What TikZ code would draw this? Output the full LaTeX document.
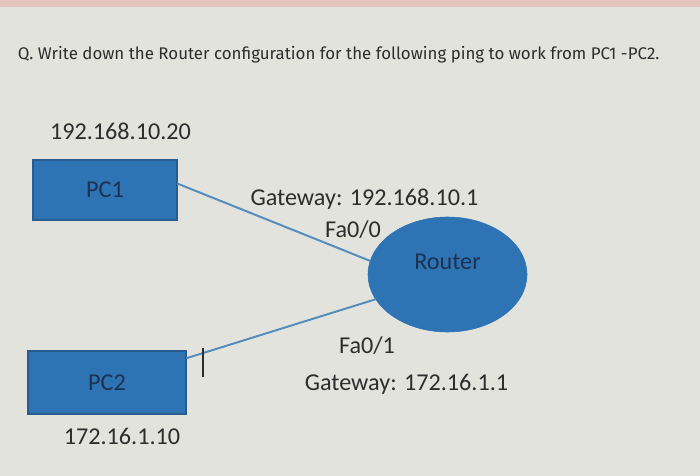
\documentclass[tikz,border=0pt]{standalone}
\usepackage{fontspec}
\setmainfont{Carlito}
\newfontfamily\titulofont{Fira Sans}
\usepackage{xcolor}
\usetikzlibrary{shapes.geometric}
\definecolor{Fondo}{RGB}{227, 227, 222}
\definecolor{Rosa}{RGB}{230, 196, 190}
\definecolor{Azul}{RGB}{46, 116, 181}
\definecolor{AzulBorde}{RGB}{42, 93, 143}
\definecolor{AzulLinea}{RGB}{84, 140, 190}
\definecolor{AzulTexto}{RGB}{28, 50, 80}
\definecolor{Gris}{RGB}{45, 45, 45}
\tikzset{
  equipo/.style={draw=AzulBorde, fill=Azul, rectangle, line width=0.8pt, text=AzulTexto, font=\fontsize{17.2}{19}\selectfont},
  enrutador/.style={draw=Azul, fill=Azul, ellipse, inner sep=0pt, text=AzulTexto, font=\fontsize{17.2}{19}\selectfont},
  etiqueta/.style={text=Gris, font=\fontsize{17.2}{19}\selectfont, inner sep=1pt},
  enlace/.style={draw=AzulLinea, line width=1.4pt}
}

\begin{document}
\begin{tikzpicture}[x=0.25cm, y=-0.25cm]
            %Fondo
            \fill[Fondo] (0,0) rectangle (70,47.6);
            \fill[Rosa] (0,0) rectangle (70,0.7);
            \useasboundingbox (0,0) rectangle (70,47.6);
            \node[anchor=west, text=Gris, font=\titulofont\fontsize{12}{14}\selectfont] (titulo) at (1.3,5.5) {Q. Write down the Router configuration for the following ping to work from PC1 -PC2.};
            %Equipos
            \node[equipo, minimum width=3.6cm, minimum height=1.5cm] (pc1) at (10.5,19.0) {PC1};
            \node[equipo, minimum width=3.95cm, minimum height=1.575cm] (pc2) at (10.7,38.25) {PC2};
            \node[enrutador, minimum width=3.975cm, minimum height=2.875cm, text depth=0.65cm] (router) at (44.75,27.45) {Router};
            %Direcciones
            \node[etiqueta] (ip1) at (12.05,13.1) {192.168.10.20};
            \node[etiqueta] (ip2) at (12.2,43.6) {172.16.1.10};
            \node[etiqueta] (gw1) at (36.45,19.9) {Gateway: 192.168.10.1};
            \node[etiqueta] (fa00) at (35.3,23.0) {Fa0/0};
            \node[etiqueta] (fa01) at (36.7,34.6) {Fa0/1};
            \node[etiqueta] (gw2) at (40.65,38.4) {Gateway: 172.16.1.1};
            %Enlaces
            \draw[enlace] (pc1.5) -- (router.170);
            \draw[enlace] (pc2.17) -- (router.199);
            \coordinate (marcaA) at (20.3,34.8);
            \coordinate (marcaB) at (20.3,37.7);
            \draw[Gris, line width=0.8pt] (marcaA) -- (marcaB);
        \end{tikzpicture}
\end{document}
